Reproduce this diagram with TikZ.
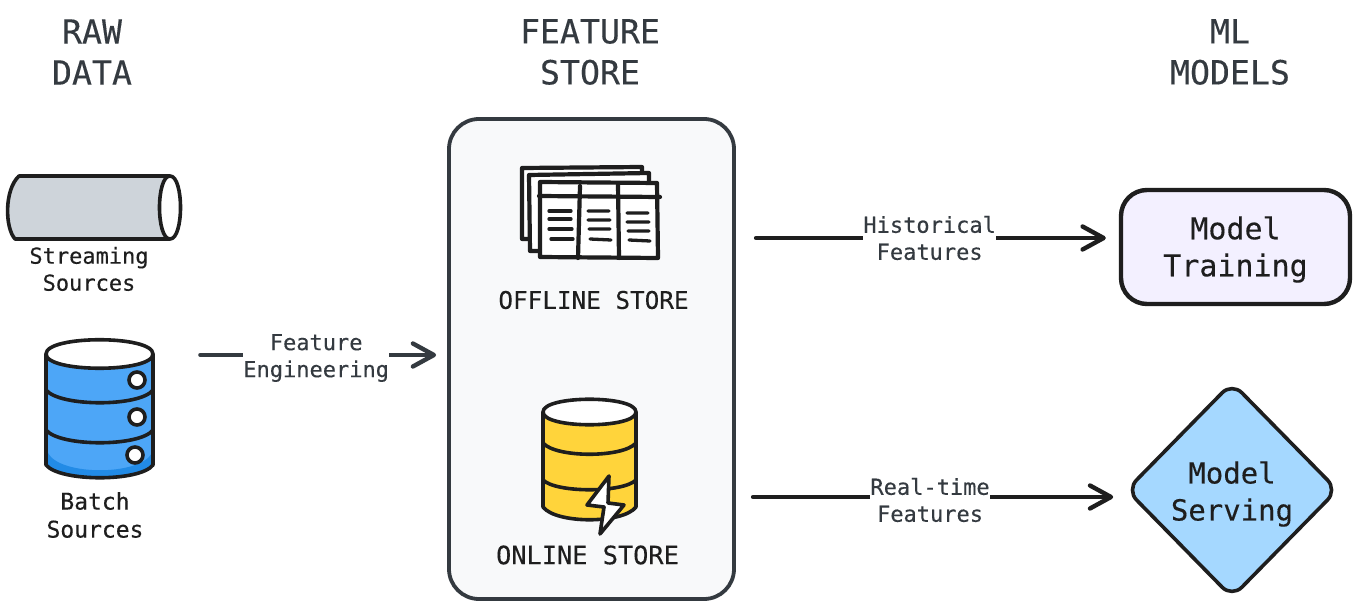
\documentclass[tikz,border=0pt]{standalone}
\usepackage{fontspec}
\setmonofont[FakeBold=0.25]{DejaVu Sans Mono}
\usetikzlibrary{arrows.meta,shapes.geometric}
\definecolor{ink}{HTML}{1E1E1E}
\definecolor{soft}{HTML}{343A40}
\definecolor{greyfill}{HTML}{CED4DA}
\definecolor{bluefill}{HTML}{4DA6F7}
\definecolor{bluedark}{HTML}{228BE6}
\definecolor{yellowfill}{HTML}{FFD43B}
\definecolor{storefill}{HTML}{F8F9FA}
\definecolor{trainfill}{HTML}{F3F0FF}
\definecolor{servefill}{HTML}{A5D8FF}
\tikzset{
  x=1pt,y=-1pt,
  pen/.style={draw=ink,line width=3.6pt,line join=round,line cap=round},
  sheet pen/.style={draw=ink,line width=4.2pt,line join=round,line cap=round},
  thin pen/.style={draw=ink,line width=3.3pt,line join=round,line cap=round},
  header/.style={font=\ttfamily\fontsize{33.2}{41}\selectfont,text=soft,align=center,inner sep=0pt},
  caption/.style={font=\ttfamily\fontsize{22}{27}\selectfont,text=ink,align=center,inner sep=0pt},
  storelabel/.style={font=\ttfamily\fontsize{24.3}{30}\selectfont,text=ink,inner sep=0pt},
  edgelabel/.style={font=\ttfamily\fontsize{22}{27}\selectfont,text=soft,align=center,fill=white,inner sep=0pt,minimum height=40pt},
  modeltext/.style={font=\ttfamily\fontsize{30}{37}\selectfont,text=ink,align=center,inner sep=0pt},
  flow/.style={draw=ink,line width=4pt,line cap=round,-{Straight Barb[length=21pt,width=23pt,line width=4.4pt,round]}},
  flowsoft/.style={flow,draw=soft},
  hook/.style={inner sep=0pt,draw=none},
}
\begin{document}
\begin{tikzpicture}
\useasboundingbox[fill=white] (0,0) rectangle (1358,609);

% headers
\node[header] (hraw) at (92,52) {RAW\\DATA};
\node[header] (hstore) at (590,52) {FEATURE\\STORE};
\node[header] (hml) at (1230,52) {ML\\MODELS};

% streaming cylinder
\node[hook,minimum width=172pt,minimum height=64pt] (stream) at (94,208) {};
\path[fill=greyfill,pen] (19,176) -- (170,176) -- (170,239) -- (15,239)
  .. controls (5,228) and (4,190) .. (19,176) -- cycle;
\path[fill=white,pen] (170,176) .. controls (156,176) and (156,239) .. (170,239)
  .. controls (184,239) and (184,176) .. (170,176) -- cycle;
\node[caption] (lstream) at (89,269) {Streaming\\Sources};

% batch database
\node[hook,minimum width=108pt,minimum height=138pt] (batch) at (100,409) {};
\path[fill=bluefill] (46,354) -- (46,465) .. controls (60,482) and (140,482) .. (153,465) -- (153,354) -- cycle;
\path[fill=bluedark] (48,453) .. controls (60,476) and (140,476) .. (152,453) -- (152,465)
  .. controls (140,482) and (60,482) .. (48,465) -- cycle;
\path[fill=white] (46,354) .. controls (46,335) and (153,335) .. (153,354)
  .. controls (153,373) and (46,373) .. (46,354) -- cycle;
\path[pen] (46,354) .. controls (46,335) and (153,335) .. (153,354)
  .. controls (153,373) and (46,373) .. (46,354) -- cycle;
\path[pen] (46,354) -- (46,465) .. controls (60,482) and (140,482) .. (153,465) -- (153,354);
\path[pen] (46,390) .. controls (60,407) and (140,407) .. (153,390);
\path[pen] (46,430) .. controls (60,447) and (140,447) .. (153,430);
\path[fill=white,pen] (137,380) circle[radius=8];
\path[fill=white,pen] (137,417) circle[radius=8];
\path[fill=white,pen] (135,455) circle[radius=8];
\node[caption,font=\ttfamily\fontsize{23}{28}\selectfont] (lbatch) at (95,515) {Batch\\Sources};

% feature store panel
\node[draw=soft,line width=3.8pt,fill=storefill,rounded corners=30pt,minimum width=285pt,minimum height=480pt,inner sep=0pt] (store) at (591.5,359) {};

% offline store icon
\path[fill=white,sheet pen] (522,168) -- (642,167) -- (642,239) -- (522,239) -- cycle;
\path[fill=white,sheet pen] (529,175) -- (649,173) -- (649,251) -- (530,251) -- cycle;
\path[fill=white,sheet pen] (540,182) -- (657,183) -- (658,258) -- (540,257) -- cycle;
\path[sheet pen] (539,196) -- (660,197);
\path[sheet pen] (580,186) -- (578,258);
\path[sheet pen] (618,184) -- (619,258);
\path[thin pen] (549,211) -- (571,211) (549,219) -- (571,219) (549,229) -- (572,229) (551,239) -- (573,239);
\path[thin pen] (588,211) -- (609,211) (588,220) -- (610,220) (589,229) -- (610,229) (590,239) -- (611,240);
\path[thin pen] (627,213) -- (648,213) (627,222) -- (649,222) (628,231) -- (649,231) (629,240) -- (650,241);
\node[storelabel] (loffline) at (593.5,300) {OFFLINE STORE};

% online store icon
\path[fill=yellowfill] (543,412) -- (543,507) .. controls (556,524) and (623,524) .. (636,507) -- (636,412) -- cycle;
\path[fill=white] (543,412) .. controls (543,395) and (636,395) .. (636,412)
  .. controls (636,429) and (543,429) .. (543,412) -- cycle;
\path[pen] (543,412) .. controls (543,395) and (636,395) .. (636,412)
  .. controls (636,429) and (543,429) .. (543,412) -- cycle;
\path[pen] (543,412) -- (543,507) .. controls (556,524) and (623,524) .. (636,507) -- (636,412);
\path[pen] (543,443) .. controls (556,458) and (623,458) .. (636,443);
\path[pen] (543,480) .. controls (556,493) and (623,493) .. (636,480);
\path[fill=white,pen] (609,476) -- (587,505) -- (604,507) -- (600,534) -- (624,505) -- (608,503) -- cycle;
\node[storelabel,font=\ttfamily\fontsize{25.3}{30}\selectfont] (lonline) at (587.5,555) {ONLINE STORE};

% models
\node[draw=ink,line width=4.4pt,fill=trainfill,rounded corners=26pt,minimum width=229pt,minimum height=114pt,inner sep=0pt] (training) at (1235.5,247) {};
\node[modeltext] (ltraining) at (1235.5,249.5) {Model\\Training};
\node[diamond,aspect=1,draw=ink,line width=3.6pt,fill=servefill,rounded corners=14pt,minimum width=212pt,minimum height=216pt,inner sep=0pt] (serving) at (1232,490) {};
\node[modeltext,font=\ttfamily\fontsize{29}{37}\selectfont] (lserving) at (1232,494) {Model\\Serving};

% connectors
\coordinate (fe) at (200,355);
\coordinate (hf) at (754,238);
\coordinate (rf) at (751,497);
\draw[flowsoft,shorten <=46pt,shorten >=11pt] (batch.east |- fe) -- node[edgelabel,pos=.553,yshift=-3pt] (lfe) {Feature\\Engineering} (store.west |- fe);
\draw[flow,shorten <=20pt,shorten >=13pt] (store.east |- hf) -- node[edgelabel,pos=.506] (lhf) {Historical\\Features} (training.west |- hf);
\draw[flow,shorten <=17pt,shorten >=11pt] (store.east |- rf) -- node[edgelabel,pos=.5,yshift=-3pt] (lrf) {Real-time\\Features} (serving.west |- rf);
\end{tikzpicture}
\end{document}
